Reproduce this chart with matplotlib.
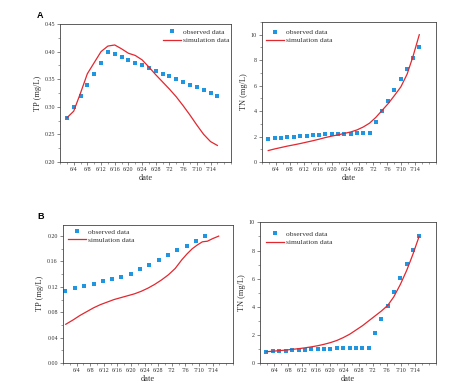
import matplotlib
matplotlib.use("Agg")
import matplotlib.pyplot as plt
from matplotlib.ticker import FixedLocator, MultipleLocator

plt.rcParams['font.family'] = ['Liberation Serif', 'DejaVu Serif']

BLUE = '#2196e0'
RED = '#e2272f'

# date axis: day number where 6/1 = 1
date_ticks = [4, 8, 12, 16, 20, 24, 28, 32, 36, 40, 44]
date_labels = ['6/4', '6/8', '6/12', '6/16', '6/20', '6/24', '6/28',
               '7/2', '7/6', '7/10', '7/14']

# panel A, TP
tp_a_days = [2, 4, 6, 8, 10, 12, 14, 16, 18, 20, 22, 24, 26, 28, 30, 32,
             34, 36, 38, 40, 42, 44, 46]
tp_a_obs = [0.28, 0.30, 0.32, 0.34, 0.36, 0.38, 0.40, 0.395, 0.39, 0.385,
            0.38, 0.375, 0.37, 0.365, 0.36, 0.355, 0.35, 0.345, 0.34, 0.335,
            0.33, 0.325, 0.32]
tp_a_sim = [0.28, 0.292, 0.325, 0.36, 0.38, 0.40, 0.41, 0.412, 0.405, 0.397,
            0.393, 0.385, 0.372, 0.358, 0.345, 0.332, 0.318, 0.302, 0.285,
            0.267, 0.25, 0.237, 0.23]

# TN sampling days (both scenarios)
tn_days = [1.8, 3.7, 5.5, 7.3, 9.2, 11.0, 12.8, 14.6, 16.4, 18.2, 20.0, 21.8,
           23.6, 25.5, 27.3, 29.1, 30.9, 32.7, 34.5, 36.3, 38.0, 39.9, 41.7,
           43.4, 45.2]

# panel A, TN
tn_a_obs = [1.8, 1.85, 1.9, 1.95, 2.0, 2.02, 2.08, 2.12, 2.15, 2.18, 2.2,
            2.2, 2.22, 2.23, 2.25, 2.26, 2.28, 3.15, 4.0, 4.8, 5.65, 6.5,
            7.3, 8.15, 9.0]
tn_a_sim = [0.9, 1.03, 1.14, 1.25, 1.35, 1.45, 1.56, 1.67, 1.79, 1.92, 2.03,
            2.13, 2.24, 2.36, 2.52, 2.75, 3.05, 3.5, 4.05, 4.6, 5.2, 5.9,
            6.9, 8.3, 10.0]

# panel B, TP
tp_b_days = [0.7, 3.5, 6.2, 9.0, 11.7, 14.5, 17.2, 19.9, 22.7, 25.4, 28.2,
             30.9, 33.6, 36.4, 39.1, 41.9]
tp_b_obs = [0.114, 0.118, 0.122, 0.125, 0.129, 0.133, 0.136, 0.140, 0.148,
            0.155, 0.163, 0.170, 0.178, 0.185, 0.193, 0.200]
tp_b_sim_days = [0.8, 3, 5, 7, 9, 11, 13, 15, 17, 19, 21, 23, 25, 27, 29, 31,
                 33, 35, 36.5, 38, 39.5, 41, 42.5, 44, 45.8]
tp_b_sim = [0.061, 0.068, 0.075, 0.081, 0.087, 0.092, 0.096, 0.100, 0.103,
            0.106, 0.109, 0.113, 0.118, 0.124, 0.131, 0.139, 0.149, 0.163,
            0.172, 0.180, 0.186, 0.191, 0.192, 0.196, 0.200]

# panel B, TN
tn_b_obs = [0.8, 0.82, 0.85, 0.88, 0.9, 0.93, 0.95, 0.97, 1.0, 1.02, 1.03,
            1.05, 1.06, 1.07, 1.08, 1.09, 1.1, 2.1, 3.1, 4.05, 5.05, 6.05,
            7.05, 8.05, 9.0]
tn_b_sim = [0.8, 0.84, 0.88, 0.92, 0.97, 1.02, 1.08, 1.15, 1.23, 1.33, 1.45,
            1.6, 1.8, 2.05, 2.35, 2.65, 3.0, 3.35, 3.7, 4.1, 4.7, 5.6, 6.6,
            7.7, 9.0]


def draw_panel(ax, xo, yo, xs, ys, ylab, ylim, ymajor, yfmt, leg_loc, leg_anchor):
    ax.plot(xo, yo, 's', color=BLUE, markersize=2.6, markeredgewidth=0,
            label='observed data')
    ax.plot(xs, ys, '-', color=RED, linewidth=0.9, label='simulation data')
    ax.set_xlim(0, 50)
    ax.set_ylim(*ylim)
    ax.xaxis.set_major_locator(FixedLocator(date_ticks))
    ax.set_xticklabels(date_labels)
    ax.xaxis.set_minor_locator(MultipleLocator(2))
    ax.yaxis.set_major_locator(MultipleLocator(ymajor))
    ax.yaxis.set_minor_locator(MultipleLocator(ymajor / 2))
    ax.yaxis.set_major_formatter(yfmt)
    ax.tick_params(which='major', direction='out', length=2.2, width=0.5,
                   labelsize=4.3, pad=1.5, color='#555555',
                   labelcolor='#333333')
    ax.tick_params(which='minor', direction='out', length=1.2, width=0.4,
                   color='#555555')
    for s in ax.spines.values():
        s.set_linewidth(0.6)
        s.set_color('#444444')
    ax.set_xlabel('date', fontsize=6, labelpad=1.5, color='#333333')
    ax.set_ylabel(ylab, fontsize=6, labelpad=2, color='#333333')
    ax.legend(loc=leg_loc, bbox_to_anchor=leg_anchor, frameon=False,
              fontsize=5.4, handlelength=2.3, handletextpad=0.3,
              labelspacing=0.25, borderpad=0, borderaxespad=0,
              markerscale=1.0, labelcolor='#333333')


fig = plt.figure(figsize=(4.74, 3.87), dpi=100)

ax1 = fig.add_axes([0.1266, 0.5814, 0.3608, 0.3566])
draw_panel(ax1, tp_a_days, tp_a_obs, tp_a_days, tp_a_sim, 'TP (mg/L)',
           (0.20, 0.45), 0.05, '{x:.2f}', 'upper right', (0.99, 0.965))

ax2 = fig.add_axes([0.5527, 0.5814, 0.3671, 0.3618])
draw_panel(ax2, tn_days, tn_a_obs, tn_days, tn_a_sim, 'TN (mg/L)',
           (0, 11), 2, '{x:.0f}', 'upper left', (0.025, 0.95))

ax3 = fig.add_axes([0.1329, 0.062, 0.3586, 0.3574])
draw_panel(ax3, tp_b_days, tp_b_obs, tp_b_sim_days, tp_b_sim, 'TP (mg/L)',
           (0, 0.218), 0.04, '{x:.2f}', 'upper left', (0.031, 0.972))

ax4 = fig.add_axes([0.5485, 0.062, 0.3713, 0.3633])
draw_panel(ax4, tn_days, tn_b_obs, tn_days, tn_b_sim, 'TN (mg/L)',
           (0, 10), 2, '{x:.0f}', 'upper left', (0.036, 0.94))

fig.text(40 / 474, 1 - 16 / 387, 'A', fontsize=6.5, fontweight='bold',
         family='Liberation Sans', ha='center', va='center')
fig.text(41 / 474, 1 - 217 / 387, 'B', fontsize=6.5, fontweight='bold',
         family='Liberation Sans', ha='center', va='center')

fig.savefig('out.png', dpi=100)
